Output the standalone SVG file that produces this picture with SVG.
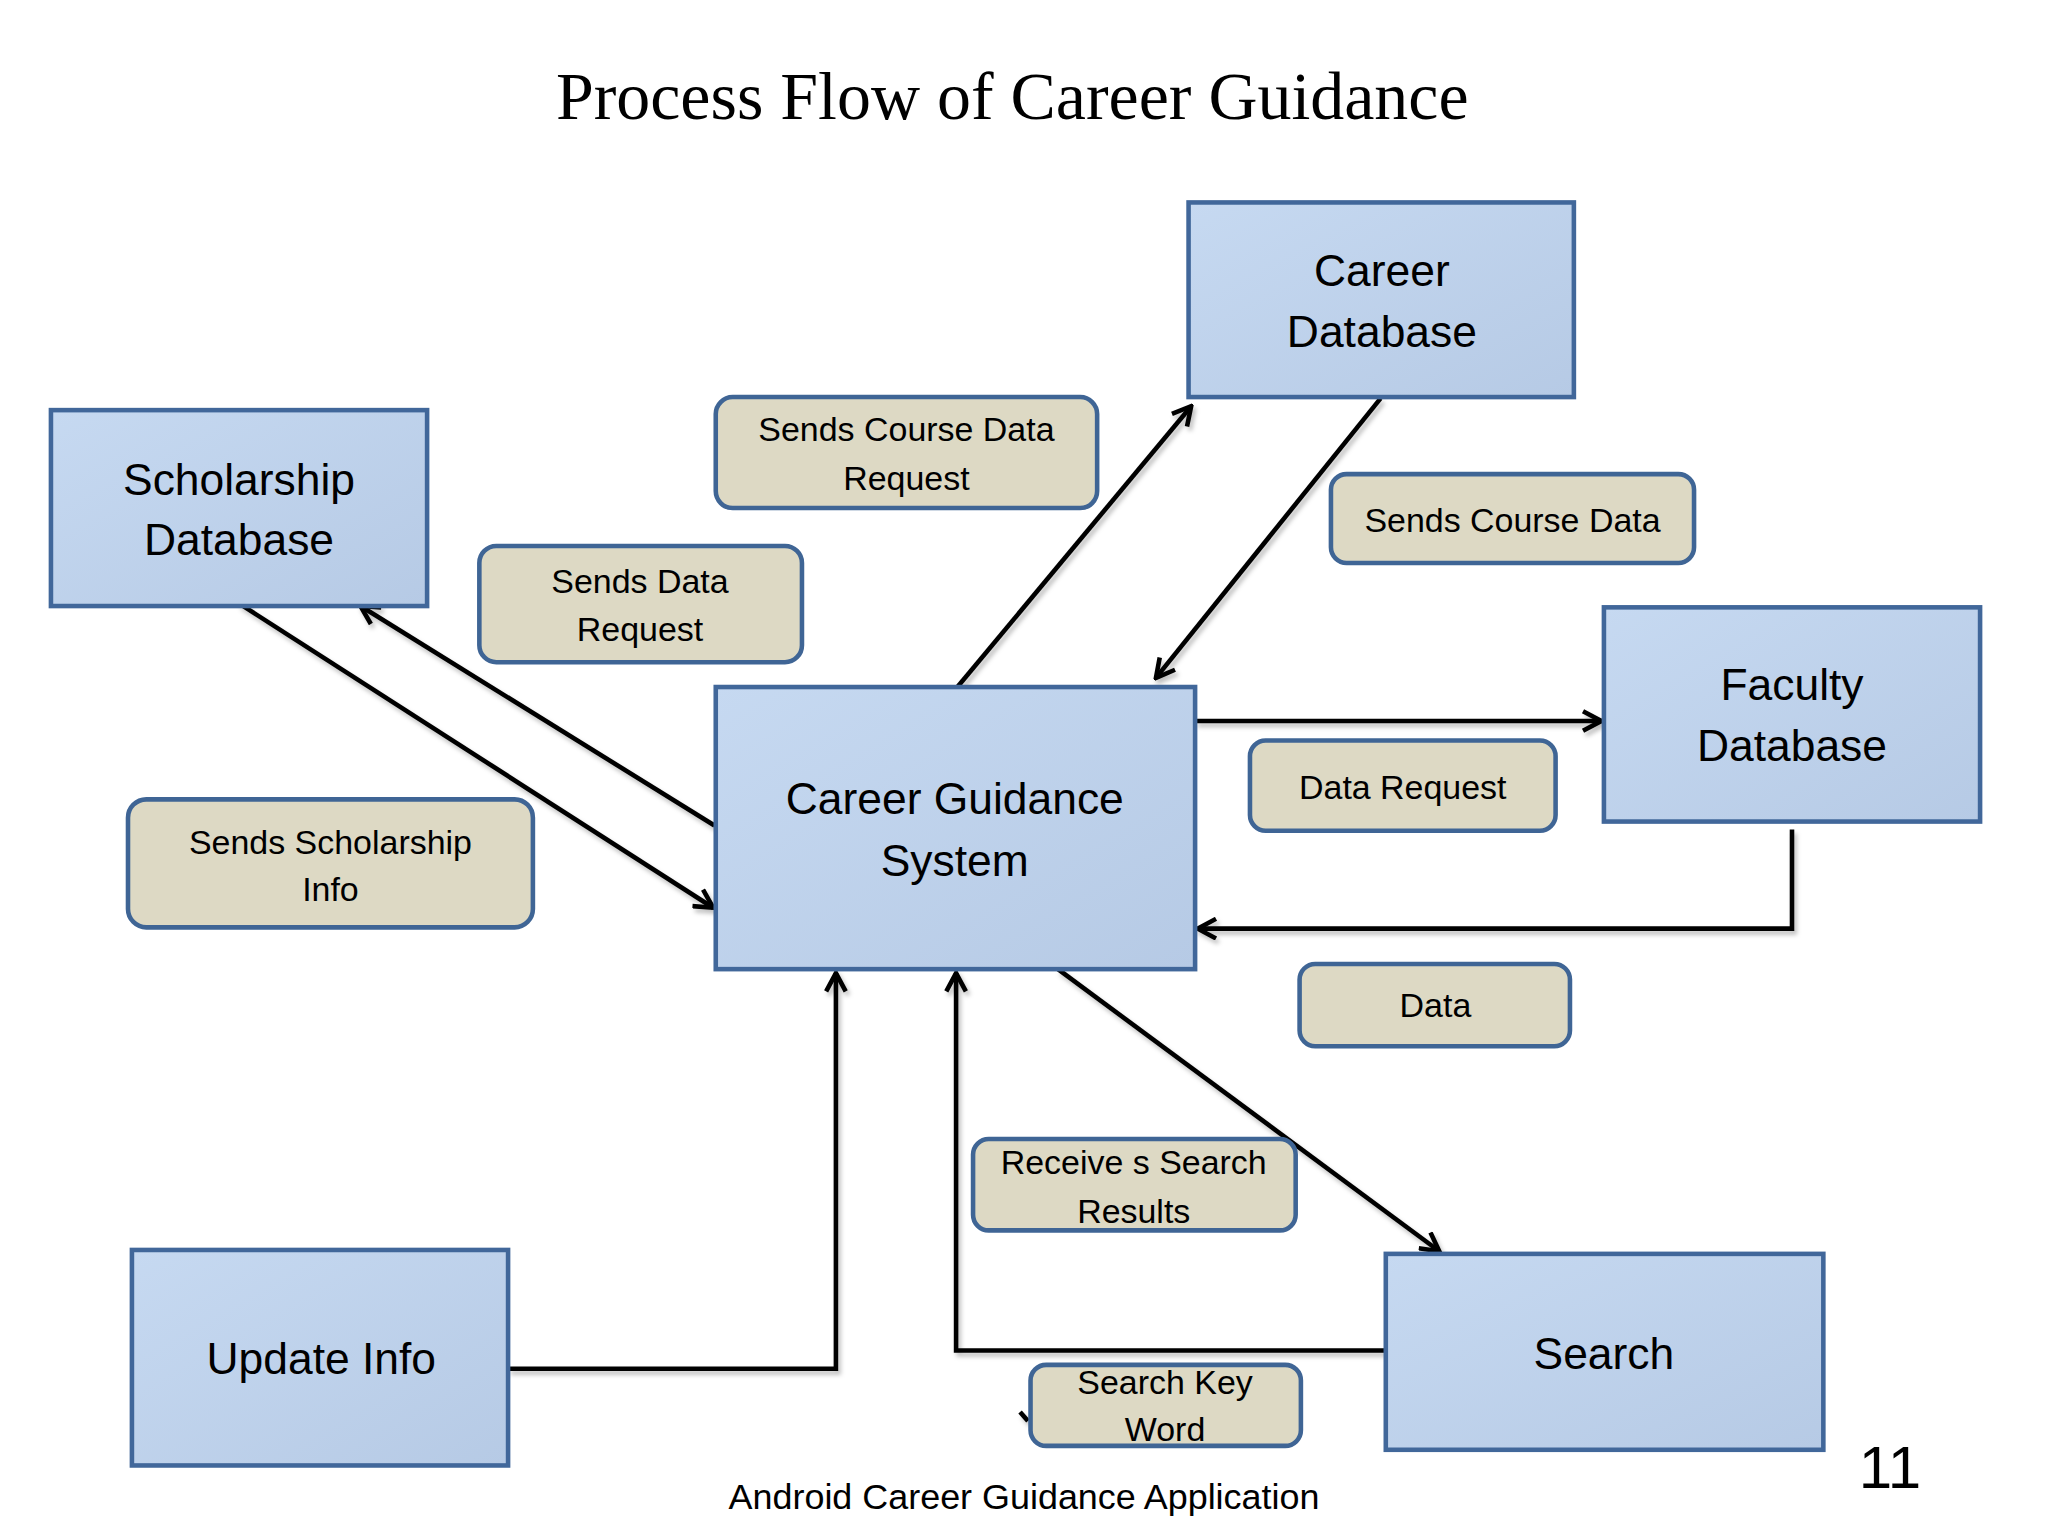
<svg xmlns="http://www.w3.org/2000/svg" width="2048" height="1536" viewBox="0 0 2048 1536">
<defs>
<linearGradient id="boxg" x1="0" y1="0" x2="1" y2="1">
<stop offset="0" stop-color="#c6d9f1"/>
<stop offset="1" stop-color="#b6cae5"/>
</linearGradient>
<marker id="arr" viewBox="0 0 18 18" refX="16" refY="9" markerWidth="18" markerHeight="18" markerUnits="userSpaceOnUse" orient="auto">
<path d="M2,1.5 L16,9 L2,16.5" fill="none" stroke="#000" stroke-width="3.5" stroke-linejoin="miter"/>
</marker>
<filter id="sh" x="-10%" y="-10%" width="120%" height="120%">
<feDropShadow dx="2" dy="3" stdDeviation="1.5" flood-color="#000" flood-opacity="0.25"/>
</filter>
</defs>
<style>
.box{fill:url(#boxg);stroke:#41679a;stroke-width:3.5}
.lab{fill:#ddd9c4;stroke:#3f6595;stroke-width:3.5}
.nt{font-family:"Liberation Sans",Arial,sans-serif;font-size:34px;fill:#000;text-anchor:middle}
.lt{font-family:"Liberation Sans",Arial,sans-serif;font-size:26px;fill:#000;text-anchor:middle}
.con{fill:none;stroke:#000;stroke-width:3.5;marker-end:url(#arr)}
.plain{fill:none;stroke:#000;stroke-width:3.5}
</style>
<rect width="2048" height="1536" fill="#fff"/>
<g transform="scale(1.306122)">
<text x="775" y="91" font-family="'Liberation Serif','Times New Roman',serif" font-size="52" text-anchor="middle" fill="#000">Process Flow of Career Guidance</text>

<g id="connectors" filter="url(#sh)">
<path class="con" d="M183,462 L546,695"/>
<path class="con" d="M547,632 L276,464"/>
<path class="con" d="M733,526 L912,311"/>
<path class="con" d="M1057,305 L885,519"/>
<path class="con" d="M915,552 L1226,552"/>
<path class="con" d="M1372,635 L1372,711 L917,711"/>
<path class="con" d="M810,742 L1102,958"/>
<path class="con" d="M1061,1034 L732,1034 L732,745"/>
<path class="con" d="M389,1048 L640,1048 L640,745"/>
<path class="plain" d="M781,1081 L787,1088"/>
</g>

<g id="career-db">
<rect class="box" x="910" y="155" width="295" height="149"/>
<text class="nt" x="1058" y="219">Career</text>
<text class="nt" x="1058" y="266">Database</text>
</g>
<g id="scholarship-db">
<rect class="box" x="39" y="314" width="288" height="150"/>
<text class="nt" x="183" y="379">Scholarship</text>
<text class="nt" x="183" y="425">Database</text>
</g>
<g id="faculty-db">
<rect class="box" x="1228" y="465" width="288" height="164"/>
<text class="nt" x="1372" y="536">Faculty</text>
<text class="nt" x="1372" y="583">Database</text>
</g>
<g id="cgs">
<rect class="box" x="548" y="526" width="367" height="216"/>
<text class="nt" x="731" y="623">Career Guidance</text>
<text class="nt" x="731" y="671">System</text>
</g>
<g id="update-info">
<rect class="box" x="101" y="957" width="288" height="165"/>
<text class="nt" x="246" y="1052">Update Info</text>
</g>
<g id="search">
<rect class="box" x="1061" y="960" width="335" height="150"/>
<text class="nt" x="1228" y="1048">Search</text>
</g>

<g id="lbl-course-req">
<rect class="lab" x="548" y="304" width="292" height="85" rx="13"/>
<text class="lt" x="694" y="338">Sends Course Data</text>
<text class="lt" x="694" y="375">Request</text>
</g>
<g id="lbl-data-req-sch">
<rect class="lab" x="367" y="418" width="247" height="89" rx="13"/>
<text class="lt" x="490" y="454">Sends Data</text>
<text class="lt" x="490" y="491">Request</text>
</g>
<g id="lbl-course-data">
<rect class="lab" x="1019" y="363" width="278" height="68" rx="12"/>
<text class="lt" x="1158" y="407">Sends Course Data</text>
</g>
<g id="lbl-data-request">
<rect class="lab" x="957" y="567" width="234" height="69" rx="12"/>
<text class="lt" x="1074" y="612">Data Request</text>
</g>
<g id="lbl-scholarship-info">
<rect class="lab" x="98" y="612" width="310" height="98" rx="14"/>
<text class="lt" x="253" y="654">Sends Scholarship</text>
<text class="lt" x="253" y="690">Info</text>
</g>
<g id="lbl-data">
<rect class="lab" x="995" y="738" width="207" height="63" rx="12"/>
<text class="lt" x="1099" y="779">Data</text>
</g>
<g id="lbl-results">
<rect class="lab" x="745" y="872" width="247" height="70" rx="12"/>
<text class="lt" x="868" y="899">Receive s Search</text>
<text class="lt" x="868" y="936">Results</text>
</g>
<g id="lbl-keyword">
<rect class="lab" x="789" y="1045" width="207" height="62" rx="12"/>
<text class="lt" x="892" y="1067">Search Key</text>
<text class="lt" x="892" y="1103">Word</text>
</g>

<text x="784" y="1155" font-family="'Liberation Sans',Arial,sans-serif" font-size="27.5" text-anchor="middle" fill="#000">Android Career Guidance Application</text>
<text x="1447" y="1139" font-family="'Liberation Sans',Arial,sans-serif" font-size="46" text-anchor="middle" fill="#000">11</text>
</g>
</svg>
